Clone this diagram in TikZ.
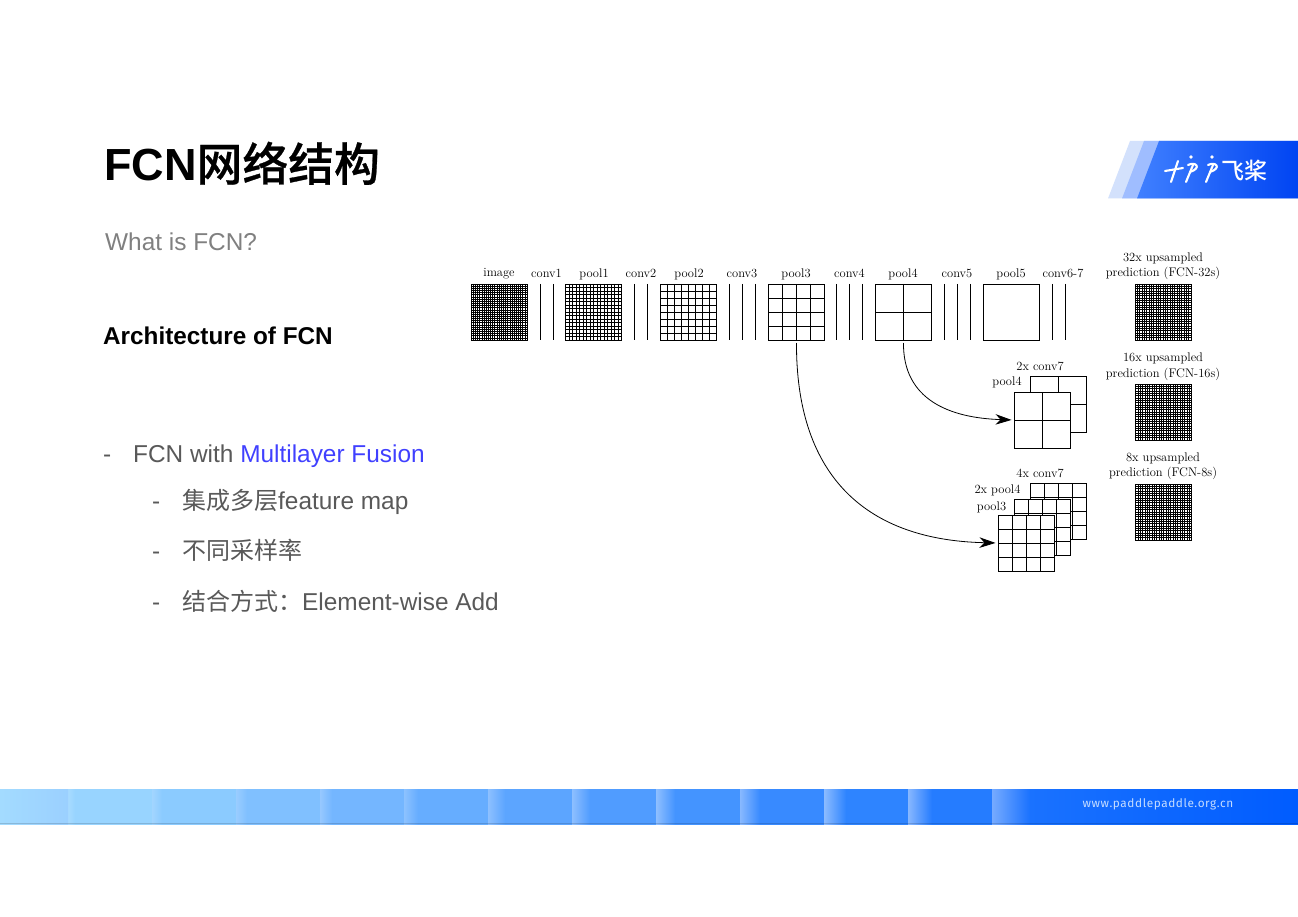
\documentclass[tikz,border=0pt]{standalone}
\usepackage{fontspec}
\setsansfont{Liberation Sans}
\newfontfamily\cjk{Noto Sans CJK SC}
\newfontfamily\cjkmedium{Noto Sans CJK SC Medium}
\newfontfamily\cjktitle[FakeBold=0.6]{Noto Sans CJK SC Medium}
\newfontfamily\urlfont[LetterSpace=5]{Fira Sans}
\usetikzlibrary{positioning,calc,arrows.meta}

\definecolor{bodygrey}{HTML}{595959}
\definecolor{subgrey}{HTML}{808080}
\definecolor{fusionblue}{HTML}{4040FF}
\definecolor{logolight}{HTML}{D3E1FC}
\definecolor{logomid}{HTML}{9FBDFF}
\definecolor{logoleft}{HTML}{4080FF}
\definecolor{logoright}{HTML}{0044F2}
\definecolor{urlcolor}{HTML}{C4DCFF}

\tikzset{
    gridbox/.style={draw, fill=white, line width=0.8pt, minimum size=56pt, inner sep=0pt, outer sep=0pt},
    layerlabel/.style={font=\fontsize{12.5}{13}\selectfont, inner sep=0pt, yshift=-1.5pt},
    bodytext/.style={font=\sffamily\fontsize{24.4}{28}\selectfont, text=bodygrey, anchor=base west, inner sep=0pt},
    logostroke/.style={white, line width=2.1pt, line cap=round},
    skiparrow/.style={line width=0.8pt, shorten <=3pt, shorten >=2.5pt, -{Stealth[length=16pt,width=10.5pt,inset=5pt]}}
}

% grid lines inside a box node
\newcommand{\gridlines}[3][0.8pt]{
    \pgfmathtruncatemacro{\lastline}{#3-1}
    \foreach \i in {1,...,\lastline} {
        \draw[line width=#1] ($(#2.north west)!\i/#3!(#2.north east)$) -- ($(#2.south west)!\i/#3!(#2.south east)$);
        \draw[line width=#1] ($(#2.north west)!\i/#3!(#2.south west)$) -- ($(#2.north east)!\i/#3!(#2.south east)$);
    }
}

\begin{document}
\begin{tikzpicture}[x=1pt,y=-1pt]
    \useasboundingbox (0,0) rectangle (1298,917);
    \fill[white] (0,0) rectangle (1298,917);

    % slide text
    \node[font=\cjktitle\fontsize{45.8}{50}\selectfont, anchor=base west, inner sep=0pt] (title) at (104,181) {{\sffamily\bfseries\fontsize{45}{50}\selectfont FCN}网络结构};
    \node[bodytext, text=subgrey] (what) at (105,251) {What is FCN?};
    \node[bodytext, text=black, font=\sffamily\bfseries\fontsize{24.3}{28}\selectfont] (arch) at (103,344) {Architecture of FCN};
    \node[bodytext] (dash1) at (103,462) {-};
    \node[bodytext] (fusion) at (133,462) {FCN with \textcolor{fusionblue}{Multilayer Fusion}};
    \node[bodytext] (dash2) at (152,509) {-};
    \node[bodytext] (item1) at (182,509) {{\cjk\fontsize{24}{28}\selectfont 集成多层}feature map};
    \node[bodytext] (dash3) at (152,559) {-};
    \node[bodytext] (item2) at (182,559) {{\cjk\fontsize{24}{28}\selectfont 不同采样率}};
    \node[bodytext] (dash4) at (152,610) {-};
    \node[bodytext] (item3) at (182,610) {{\cjk\fontsize{24}{28}\selectfont 结合方式：}Element-wise Add};

    % logo
    \fill[logolight] (1108,198.5) -- (1130,141) -- (1298,141) -- (1298,198.5) -- cycle;
    \fill[logomid] (1122,198.5) -- (1144,141) -- (1298,141) -- (1298,198.5) -- cycle;
    \shade[left color=logoleft, right color=logoright] (1137,198.5) -- (1159,141) -- (1298,141) -- (1298,198.5) -- cycle;
    \draw[logostroke] (1165,171) -- (1183,168);
    \draw[logostroke] (1178,161) -- (1171,182);
    \draw[logostroke] (1193,165) -- (1186,182);
    \draw[logostroke] (1188,165) .. controls (1196,161) and (1202,168) .. (1190,172);
    \draw[logostroke] (1213,165) -- (1206,182);
    \draw[logostroke] (1208,165) .. controls (1216,161) and (1222,168) .. (1210,172);
    \fill[white] (1191,157) circle (1.8);
    \fill[white] (1212,157) circle (1.8);
    \node[font=\cjkmedium\fontsize{23}{24}\selectfont, text=white, inner sep=0pt] (logotext) at (1244,171) {飞桨};

    % footer bar
    \begin{scope}
    \clip (0,789) rectangle (1298,824);
    \foreach \xa/\xb/\xc/\mixval/\barcol in {
        68/75/152/85/98D4FF, 152/162/236/80/8BCBFF, 236/247/320/80/80C0FF, 320/332/404/75/74B6FF,
        404/418/488/75/66ADFF, 488/505/572/70/5CA5FF, 572/590/656/65/509CFF, 656/675/740/60/4494FF,
        740/760/824/60/388AFF, 824/846/908/55/2E84FF, 908/932/992/55/257CFF} {
        \definecolor{barbase}{HTML}{\barcol}
        \fill[barbase] (\xb-1,789) rectangle (\xc+1,825);
        \shade[left color=barbase!\mixval!white, right color=barbase] (\xa,788) rectangle (\xb,826);
    }
    \definecolor{barbase}{HTML}{A3DBFF}
    \shade[left color=barbase, right color=barbase!95!blue] (0,788) rectangle (68,826);
    \definecolor{barbase}{HTML}{1A72FF}
    \definecolor{barend}{HTML}{005CFF}
    \shade[left color=barbase, right color=barend] (1028,788) rectangle (1298,826);
    \shade[left color=barbase!60!white, right color=barbase] (992,788) rectangle (1030,826);
    \draw[black, opacity=0.15, line width=1pt] (0,823.5) -- (1298,823.5);
    \end{scope}
    \node[font=\urlfont\fontsize{11.8}{12}\selectfont, text=urlcolor, inner sep=0pt] (url) at (1158,804) {www.paddlepaddle.org.cn};

    % top row
    \node[layerlabel] (limage) at (499,272) {image};
    \node[layerlabel] (lconva) at (546.5,272) {conv1};
    \node[layerlabel] (lpoola) at (594,273) {pool1};
    \node[layerlabel] (lconvb) at (641,272) {conv2};
    \node[layerlabel] (lpoolb) at (689,273) {pool2};
    \node[layerlabel] (lconvc) at (742,272) {conv3};
    \node[layerlabel] (lpoolc) at (796,273) {pool3};
    \node[layerlabel] (lconvd) at (849.5,272) {conv4};
    \node[layerlabel] (lpoold) at (903,273) {pool4};
    \node[layerlabel] (lconve) at (957,272) {conv5};
    \node[layerlabel] (lpoole) at (1011,273) {pool5};
    \node[layerlabel] (lconvf) at (1063,272) {conv6-7};

    \node[gridbox] (image) at (499,312) {};
    \node[gridbox] (pool1) at (593.5,312) {};
    \node[gridbox] (pool2) at (688,312) {};
    \node[gridbox] (pool3) at (796.5,312) {};
    \node[gridbox] (pool4) at (903.5,312) {};
    \node[gridbox] (pool5) at (1011,312) {};
    \gridlines[0.55pt]{image}{26}
    \gridlines[0.55pt]{pool1}{16}
    \gridlines[0.7pt]{pool2}{8}
    \gridlines{pool3}{4}
    \gridlines{pool4}{2}

    % conv layers
    \foreach \x in {540,553,634.7,647,729,742,755,836.7,849,862.7,944,957,970,1052,1065} {
        \draw[line width=0.8pt] (\x,284) -- (\x,340);
    }

    % predictions
    \node[layerlabel] (ltext32a) at (1163,257) {32x upsampled};
    \node[layerlabel] (ltext32b) at (1163,272) {prediction (FCN-32s)};
    \node[layerlabel] (ltext16a) at (1163,357) {16x upsampled};
    \node[layerlabel] (ltext16b) at (1163,373) {prediction (FCN-16s)};
    \node[layerlabel] (ltext8a) at (1163,457) {8x upsampled};
    \node[layerlabel] (ltext8b) at (1163,472) {prediction (FCN-8s)};
    \node[gridbox] (fcn32) at (1163,312) {};
    \node[gridbox] (fcn16) at (1163.5,412) {};
    \node[gridbox] (fcn8) at (1163.5,512) {};
    \gridlines[0.6pt]{fcn32}{24}
    \gridlines[0.6pt]{fcn16}{24}
    \gridlines[0.6pt]{fcn8}{24}

    % first fusion stack
    \node[layerlabel] (ltwoconv) at (1040,365) {2x conv7};
    \node[layerlabel] (lpoolfour) at (1007,381) {pool4};
    \node[gridbox] (convseven) at (1058,404) {};
    \gridlines{convseven}{2}
    \node[gridbox] (fusefour) at (1042,420) {};
    \gridlines{fusefour}{2}

    % second fusion stack
    \node[layerlabel] (lfourconv) at (1040,472) {4x conv7};
    \node[layerlabel] (ltwopool) at (997.5,489) {2x pool4};
    \node[layerlabel] (lpoolthree) at (991.5,506) {pool3};
    \node[gridbox] (convfour) at (1058,511) {};
    \gridlines{convfour}{4}
    \node[gridbox] (pooltwo) at (1042,527) {};
    \gridlines{pooltwo}{4}
    \node[gridbox] (fusethree) at (1026,543) {};
    \gridlines{fusethree}{4}

    % skip connections
    \draw[skiparrow] (pool4.south) .. controls (903,400) and (950,418) .. (fusefour.west);
    \draw[skiparrow] (pool3.south) .. controls (796,470) and (860,540) .. (fusethree.west);
\end{tikzpicture}
\end{document}
